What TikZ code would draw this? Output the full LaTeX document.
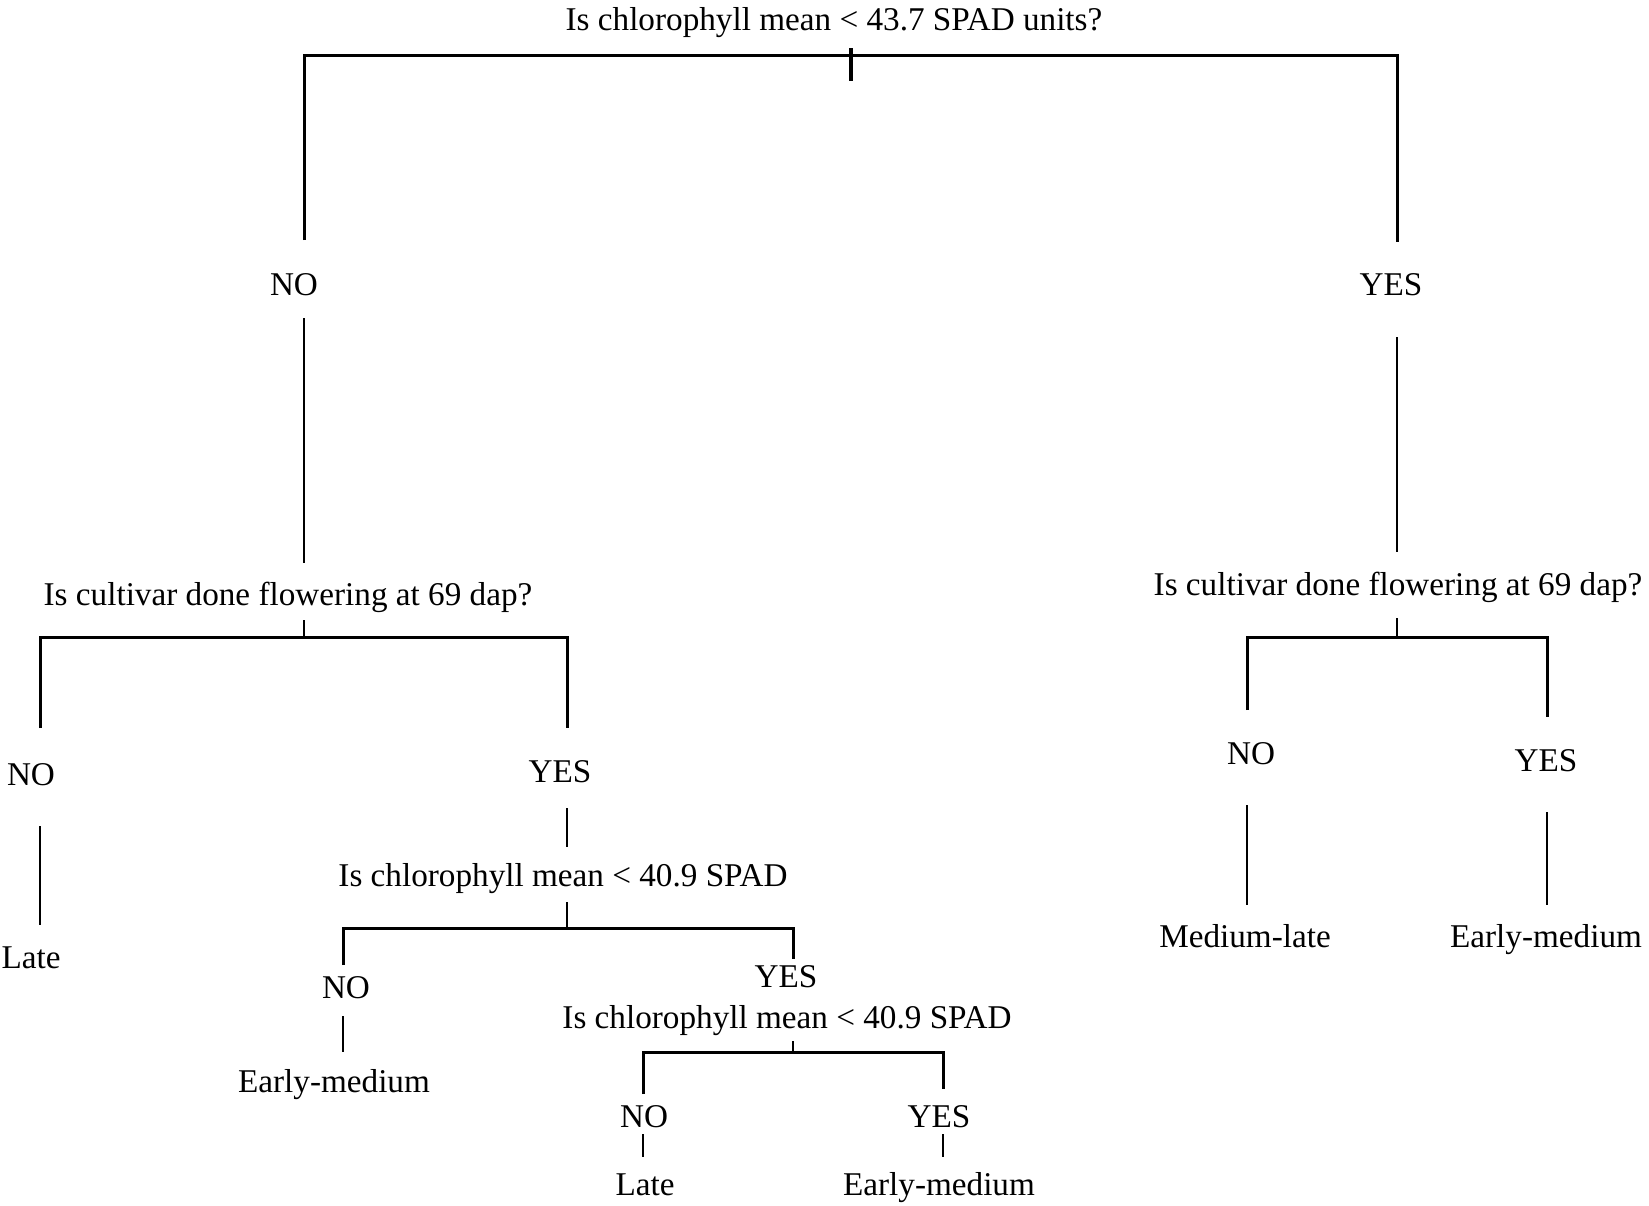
\documentclass[tikz,border=0pt]{standalone}
\usepackage{fontspec}
\setmainfont{Liberation Serif}
\begin{document}
\begin{tikzpicture}[x=1pt,y=-1pt,
  lbl/.style={inner sep=0pt, anchor=base, font=\fontsize{33.2}{40}\selectfont},
  edge/.style={line width=2.6pt},
  bar/.style={line width=3pt, line join=miter}]
\useasboundingbox[fill=white] (0,0) rectangle (1649,1205);

% ---------- root ----------
\node[lbl] (q0) at (834,30) {Is chlorophyll mean < 43.7 SPAD units?};
\coordinate (t0a) at (851,48);
\coordinate (t0b) at (851,81);
\coordinate (b0l) at (304,55);
\coordinate (b0r) at (1397,55);
\coordinate (L1a) at (304,240);
\coordinate (R1a) at (1397,242);
\draw[bar] (L1a) -- (b0l) -- (b0r) -- (R1a);
\draw[line width=4.2pt] (t0a) -- (t0b);

\node[lbl] (n1) at (294,295) {NO};
\node[lbl] (y1) at (1391,295) {YES};
\coordinate (L1b) at (304,318);
\coordinate (L1c) at (304,563);
\coordinate (R1b) at (1397,337);
\coordinate (R1c) at (1397,552);
\draw[edge] (L1b) -- (L1c);
\draw[edge] (R1b) -- (R1c);

% ---------- left subtree ----------
\node[lbl] (qL) at (288,605) {Is cultivar done flowering at 69 dap?};
\coordinate (tLa) at (304,620);
\coordinate (tLb) at (304,637);
\coordinate (bLl) at (40,637);
\coordinate (bLr) at (567,637);
\coordinate (LLa) at (40,728);
\coordinate (LRa) at (567,728);
\draw[edge] (tLa) -- (tLb);
\draw[bar] (LLa) -- (bLl) -- (bLr) -- (LRa);

\node[lbl] (n2) at (31,785) {NO};
\coordinate (LLb) at (40,826);
\coordinate (LLc) at (40,925);
\draw[edge] (LLb) -- (LLc);
\node[lbl] (leaf1) at (31,968) {Late};

\node[lbl] (y2) at (560,782) {YES};
\coordinate (LRb) at (567,808);
\coordinate (LRc) at (567,847);
\draw[edge] (LRb) -- (LRc);

\node[lbl] (qLR) at (563,886) {Is chlorophyll mean < 40.9 SPAD};
\coordinate (tLRa) at (567,902);
\coordinate (tLRb) at (567,928);
\coordinate (bLRl) at (343,928);
\coordinate (bLRr) at (793,928);
\coordinate (LRLa) at (343,965);
\coordinate (LRRa) at (793,959);
\draw[edge] (tLRa) -- (tLRb);
\draw[bar] (LRLa) -- (bLRl) -- (bLRr) -- (LRRa);

\node[lbl] (n3) at (346,998) {NO};
\coordinate (LRLb) at (343,1016);
\coordinate (LRLc) at (343,1052);
\draw[edge] (LRLb) -- (LRLc);
\node[lbl] (leaf2) at (334,1092) {Early-medium};

\node[lbl] (y3) at (786,987) {YES};
\node[lbl] (qLRR) at (787,1028) {Is chlorophyll mean < 40.9 SPAD};
\coordinate (tLRRa) at (793,1041);
\coordinate (tLRRb) at (793,1052);
\coordinate (bLRRl) at (643,1052);
\coordinate (bLRRr) at (943,1052);
\coordinate (LRRLa) at (643,1094);
\coordinate (LRRRa) at (943,1089);
\draw[edge] (tLRRa) -- (tLRRb);
\draw[bar] (LRRLa) -- (bLRRl) -- (bLRRr) -- (LRRRa);

\node[lbl] (n4) at (644,1127) {NO};
\node[lbl] (y4) at (939,1127) {YES};
\coordinate (LRRLb) at (643,1134);
\coordinate (LRRLc) at (643,1157);
\coordinate (LRRRb) at (943,1134);
\coordinate (LRRRc) at (943,1157);
\draw[edge] (LRRLb) -- (LRRLc);
\draw[edge] (LRRRb) -- (LRRRc);
\node[lbl] (leaf3) at (645,1195) {Late};
\node[lbl] (leaf4) at (939,1195) {Early-medium};

% ---------- right subtree ----------
\node[lbl] (qR) at (1398,595) {Is cultivar done flowering at 69 dap?};
\coordinate (tRa) at (1397,618);
\coordinate (tRb) at (1397,637);
\coordinate (bRl) at (1247,637);
\coordinate (bRr) at (1547,637);
\coordinate (RLa) at (1247,710);
\coordinate (RRa) at (1547,717);
\draw[edge] (tRa) -- (tRb);
\draw[bar] (RLa) -- (bRl) -- (bRr) -- (RRa);

\node[lbl] (n5) at (1251,764) {NO};
\node[lbl] (y5) at (1546,771) {YES};
\coordinate (RLb) at (1247,805);
\coordinate (RLc) at (1247,905);
\coordinate (RRb) at (1547,812);
\coordinate (RRc) at (1547,905);
\draw[edge] (RLb) -- (RLc);
\draw[edge] (RRb) -- (RRc);
\node[lbl] (leaf5) at (1245,947) {Medium-late};
\node[lbl] (leaf6) at (1546,947) {Early-medium};
\end{tikzpicture}
\end{document}
